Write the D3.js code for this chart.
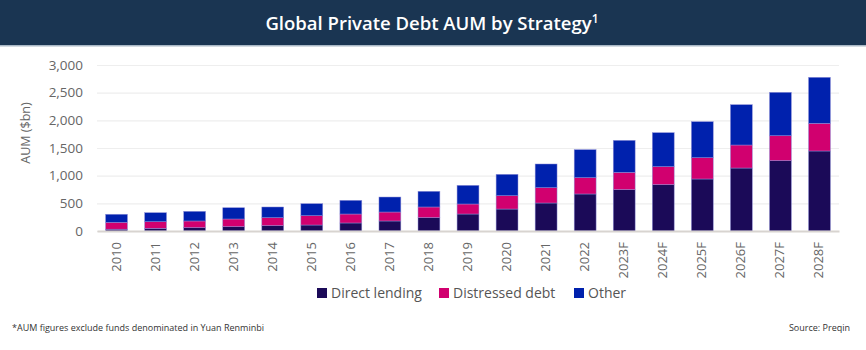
<!DOCTYPE html>
<html><head><meta charset="utf-8">
<script src="https://cdn.jsdelivr.net/npm/d3@7"></script>
<style>body{margin:0;background:#fff}svg{display:block}</style>
</head><body><svg id="c" width="866" height="350"></svg>
<script>
const years = ["2010","2011","2012","2013","2014","2015","2016","2017","2018","2019","2020","2021","2022","2023F","2024F","2025F","2026F","2027F","2028F"];
const directLending = [32,48,60,78,96,108,145,181,241,307,397,506,669,747,837,940,1138,1271,1446];
const distressedDebt = [125,120,121,139,145,169,162,162,193,181,241,277,295,313,326,385,416,451,500];
const other = [145,163,174,204,193,217,247,271,283,337,386,428,506,578,614,651,729,784,831];
const seriesNames = ["Direct lending","Distressed debt","Other"];
const seriesColors = ["#1b0a58","#d1006f","#0021ad"];
const yTicks = [0,500,1000,1500,2000,2500,3000];

const svg = d3.select("#c");
const W = 866, H = 350;
// header
svg.append("rect").attr("x",0).attr("y",0).attr("width",W).attr("height",45).attr("fill","#1a3552");
svg.append("rect").attr("x",0).attr("y",45).attr("width",W).attr("height",1.5).attr("fill","#a9b8c6");
const title = svg.append("text").attr("x",432).attr("y",30).attr("text-anchor","middle")
  .attr("fill","#fff").attr("font-family","'Open Sans', sans-serif").attr("font-weight",600).attr("font-size",18.5);
title.append("tspan").text("Global Private Debt AUM by Strategy");
title.append("tspan").attr("dy",-7).attr("font-size",12).text("1");

const x = d3.scaleBand().domain(years).range([97,839]).paddingInner(0.44).paddingOuter(0.22);
const y = d3.scaleLinear().domain([0,3000]).range([231,65]);

const font = "'Open Sans', sans-serif";
// gridlines
const gy = svg.append("g").attr("transform","translate(97,0)")
  .call(d3.axisLeft(y).tickValues(yTicks).tickSize(-(839-97)).tickFormat(""));
gy.select(".domain").remove();
gy.selectAll(".tick line").attr("stroke","#eeeeee").attr("stroke-width",1.2);

// y tick labels
const yl = svg.append("g").attr("transform","translate(83,0)")
  .call(d3.axisLeft(y).tickValues(yTicks).tickSize(0).tickPadding(0).tickFormat(d3.format(",")));
yl.select(".domain").remove();
yl.selectAll("text").attr("font-family",font).attr("font-size",13.5).attr("fill","#666");

// y title
svg.append("text").attr("transform","translate(30,133) rotate(-90)").attr("text-anchor","middle")
  .attr("font-family",font).attr("font-size",12.5).attr("fill","#666").text("AUM ($bn)");

// stacked bars
const rows = years.map((yr,i)=>({year:yr, a:directLending[i], b:distressedDebt[i], c:other[i]}));
const stack = d3.stack().keys(["a","b","c"])(rows);
svg.append("g").selectAll("g").data(stack).join("g").attr("fill",(d,i)=>seriesColors[i])
  .selectAll("rect").data(d=>d).join("rect")
  .attr("x",d=>x(d.data.year)).attr("width",x.bandwidth())
  .attr("y",d=>y(d[1])).attr("height",d=>y(d[0])-y(d[1]))
  .attr("stroke","#8f8fd8").attr("stroke-width",0.6).attr("stroke-opacity",0.8);

// x axis
const xa = svg.append("g").attr("transform","translate(0,231)").call(d3.axisBottom(x).tickSize(0).tickPadding(0));
xa.select(".domain").attr("stroke","#d8d4d0").attr("stroke-width",2);
xa.selectAll("text").attr("font-family",font).attr("font-size",13).attr("fill","#666")
  .attr("text-anchor","end").attr("dy",0)
  .attr("transform","translate(4,11) rotate(-90)");

// legend
const legX = [317,439,574];
const lg = svg.append("g");
seriesNames.forEach((n,i)=>{
  lg.append("rect").attr("x",legX[i]).attr("y",288).attr("width",10).attr("height",10).attr("fill",seriesColors[i]);
  lg.append("text").attr("x",legX[i]+14).attr("y",298).attr("font-family",font).attr("font-size",14).attr("fill","#555").text(n);
});

// footnotes
svg.append("text").attr("x",12).attr("y",331).attr("font-family","'Liberation Sans Narrow', 'Open Sans', sans-serif").attr("font-size",9).attr("fill","#333")
  .text("*AUM figures exclude funds denominated in Yuan Renminbi");
svg.append("text").attr("x",850).attr("y",331).attr("text-anchor","end").attr("font-family","'Liberation Sans Narrow', 'Open Sans', sans-serif").attr("font-size",9).attr("fill","#333")
  .text("Source: Preqin");
</script></body></html>
